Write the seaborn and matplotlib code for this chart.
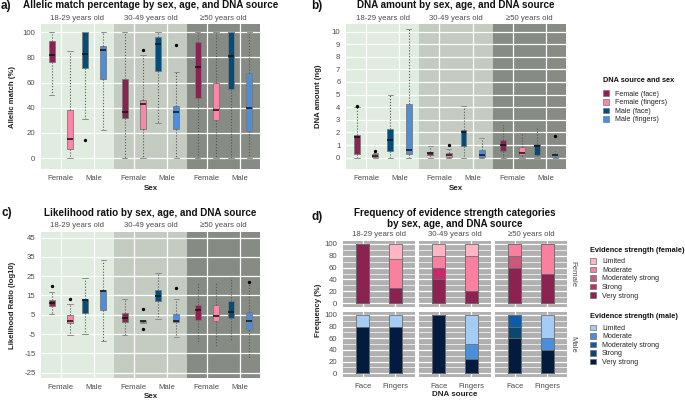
import numpy as np
import pandas as pd
import seaborn as sns
import matplotlib.pyplot as plt
from matplotlib.patches import Patch

# ---------------- data ----------------
ages = ['18-29 years old', '30-49 years old', '\u226550 years old']
sexes = ['Female', 'Male']
groups = ['Female (face)', 'Female (fingers)', 'Male (face)', 'Male (fingers)']
sources = ['Face', 'Fingers']

# box stats, 12 boxes each: age x (F face, F fingers, M face, M fingers)
allelic_low = [50, 0, 31, 22.5, 0, 0, 28, 0, 0, 0, 0, 0]
allelic_q1 = [76, 7, 72, 62.5, 32, 23.5, 69, 23.5, 48, 30, 55, 21.5]
allelic_med = [82, 15, 83, 86, 37, 43, 90.5, 37, 72.5, 38, 81, 39.5]
allelic_q3 = [93, 38, 100, 89.5, 63, 46.5, 96.5, 41, 92.5, 60, 100, 68]
allelic_high = [100, 85, 100, 100, 100, 82, 100, 68.5, 100, 100, 100, 100]
allelic_out = [[], [], [14], [], [], [86], [], [90], [], [], [], []]

dna_low = [0, 0, 0, 0, 0, 0, 0, 0, 0, 0, 0, 0]
dna_q1 = [0.27, 0.05, 0.53, 0.32, 0.18, 0.07, 0.9, 0.05, 0.55, 0.18, 0.2, 0.03]
dna_med = [1.65, 0.15, 1.41, 0.61, 0.33, 0.2, 2.0, 0.24, 1.0, 0.34, 0.9, 0.18]
dna_q3 = [1.78, 0.27, 2.29, 4.26, 0.48, 0.33, 2.19, 0.63, 1.4, 0.87, 1.1, 0.29]
dna_high = [4.0, 0.38, 4.95, 10.2, 0.93, 0.72, 4.06, 1.56, 2.66, 1.93, 2.45, 0.6]
dna_out = [[4.08], [0.52], [], [], [], [0.98], [], [], [], [], [], [1.74]]

lr_low = [5.3, -5.6, -5.1, -8.4, -5.3, 0.9, 2.9, -6.3, -8.9, -11.5, -8.9, -17.6]
lr_q1 = [9.6, 0.8, 5.7, 7.2, 1.4, 1.0, 11.9, 1.3, 2.5, 1.5, 3.4, -3.0]
lr_med = [11.2, 1.8, 12.8, 17.3, 3.2, 1.5, 14.5, 1.5, 7.7, 4.1, 6.2, 1.8]
lr_q3 = [12.6, 4.8, 13.0, 17.8, 5.9, 2.0, 17.6, 5.6, 10.2, 9.8, 12.1, 6.4]
lr_high = [16.6, 10.7, 24, 33.2, 13.1, 2.1, 26.5, 13.3, 21.8, 22.6, 24.5, 20.9]
lr_out = [[19.9], [13.3], [], [], [], [7.8, -2.3], [], [19], [], [], [], [22]]

# evidence strength shares (%), 6 bars: age x (Face, Fingers)
levels = ['Limited', 'Moderate', 'Moderately strong', 'Strong', 'Very strong']
female_very_strong = [100, 25, 40, 20, 60, 50]
female_strong = [0, 0, 20, 0, 0, 0]
female_mod_strong = [0, 0, 0, 0, 20, 0]
female_moderate = [0, 50, 20, 60, 20, 50]
female_limited = [0, 25, 20, 20, 0, 0]
male_very_strong = [80, 80, 100, 25, 60, 40]
male_strong = [0, 0, 0, 0, 20, 0]
male_mod_strong = [0, 0, 0, 0, 20, 0]
male_moderate = [0, 0, 0, 25, 0, 20]
male_limited = [20, 20, 0, 50, 0, 40]

group_colors = ['#8b2252', '#fa86aa', '#034d7a', '#4b8fdc']
female_colors = ['#ffb6c4', '#f9819f', '#c9587c', '#c8296a', '#8b2252']
male_colors = ['#a4cdf5', '#4a8fdb', '#0b5caa', '#0b4870', '#031b3f']
facet_bg = ['#e0ecdf', '#c4ccc2', '#868b84']

# ---------------- setup ----------------
sns.set_theme(style='white')
plt.rcParams['font.family'] = ['Liberation Sans', 'DejaVu Sans']
plt.rcParams['axes.unicode_minus'] = False

W, H = 685, 400
fig = plt.figure(figsize=(W / 100, H / 100), dpi=100)
TXT = '#4d4d4d'


def px_axes(x0, y0, x1, y1):
    return fig.add_axes([x0 / W, 1 - y1 / H, (x1 - x0) / W, (y1 - y0) / H])


def px_text(x, y, s, **kw):
    kw.setdefault('ha', 'center')
    kw.setdefault('va', 'center')
    fig.text(x / W, 1 - y / H, s, **kw)


def px_legend(cols, labels, title, x, y_title, y_first, edge):
    px_text(x, y_title, title, fontsize=5.3, fontweight='bold', color='#111111', ha='left')
    fig.legend([Patch(facecolor=c, edgecolor=edge, linewidth=0.5) for c in cols], labels,
               loc='upper left', bbox_to_anchor=(x / W, 1 - (y_first - 4.2) / H),
               frameon=False, fontsize=5.1, handlelength=0.8, handleheight=0.8,
               handletextpad=0.9, labelspacing=0.2, borderpad=0, borderaxespad=0)


def box_table(low, q1, med, q3, high, out):
    rows = []
    for i in range(12):
        rows.append({'age': ages[i // 4], 'group': groups[i % 4],
                     'whislo': low[i], 'q1': q1[i], 'med': med[i],
                     'q3': q3[i], 'whishi': high[i], 'fliers': out[i]})
    return pd.DataFrame(rows)


def box_panel(df, x0, y0, x1, y1, ylim, yticks, ylabel, title, tag, tag_x):
    fw = (x1 - x0) / 3
    offsets = [-0.275, 0.275, 0.725, 1.275]
    for i, age in enumerate(ages):
        ax = px_axes(x0 + i * fw, y0, x0 + (i + 1) * fw, y1)
        ax.set_facecolor(facet_bg[i])
        sub = df[df['age'] == age]
        stats = [dict(r) for _, r in sub[['whislo', 'q1', 'med', 'q3', 'whishi', 'fliers']].iterrows()]
        bp = ax.bxp(stats, positions=offsets, widths=0.18, patch_artist=True,
                    capwidths=0.16, manage_ticks=False,
                    boxprops=dict(edgecolor='#7a7a7a', linewidth=0.6),
                    whiskerprops=dict(color='#555555', linestyle=':', linewidth=0.8),
                    capprops=dict(color='#8c8c8c', linewidth=0.7),
                    medianprops=dict(color='#111111', linewidth=1.1),
                    flierprops=dict(marker='o', markersize=1.4, markerfacecolor='black',
                                    markeredgecolor='black'))
        for patch, c in zip(bp['boxes'], group_colors):
            patch.set_facecolor(c)
        ax.set_xlim(-0.6, 1.6)
        ax.set_ylim(*ylim)
        ax.set_xticks([0, 1])
        ax.set_xticklabels(sexes)
        ax.set_yticks(yticks)
        ax.set_axisbelow(True)
        ax.grid(True, color='white', linewidth=0.9)
        for s in ax.spines.values():
            s.set_visible(False)
        ax.tick_params(axis='both', labelsize=5.6, labelcolor=TXT, length=2,
                       width=0.5, color='#555555', pad=2)
        if i > 0:
            ax.tick_params(axis='y', left=False, labelleft=False)
        px_text(x0 + (i + 0.5) * fw, y0 - 6, age, fontsize=5.6, color=TXT)
    px_text((x0 + x1) / 2, y1 + 19, 'Sex', fontsize=5.8, fontweight='bold', color='#222222')
    px_text(x0 - 28, (y0 + y1) / 2, ylabel, fontsize=5.6, fontweight='bold',
            rotation=90, color='#222222')
    px_text((x0 + x1) / 2, y0 - 18.5, title, fontsize=7.1, fontweight='bold', color='#111111')
    px_text(tag_x, y0 - 18.5, tag, fontsize=8.5, fontweight='bold', color='#111111', ha='left')


allelic = box_table(allelic_low, allelic_q1, allelic_med, allelic_q3, allelic_high, allelic_out)
dna = box_table(dna_low, dna_q1, dna_med, dna_q3, dna_high, dna_out)
lr = box_table(lr_low, lr_q1, lr_med, lr_q3, lr_high, lr_out)

box_panel(allelic, 41, 24, 260, 169, (-8.7, 106.6), range(0, 101, 20),
          'Allelic match (%)', 'Allelic match percentage by sex, age, and DNA source', 'a)', 1)
box_panel(dna, 346, 24, 566, 169, (-0.9, 10.6), range(0, 11),
          'DNA amount (ng)', 'DNA amount by sex, age, and DNA source', 'b)', 311)
box_panel(lr, 41, 232, 260, 378, (-27.8, 47.9), range(-25, 46, 10),
          'Likelihood Ratio (log10)', 'Likelihood ratio by sex, age, and DNA source', 'c)', 1)

px_legend(group_colors, groups, 'DNA source and sex', 603, 80, 94.7, '#7a7a7a')

# ---------------- panel d ----------------
rows = []
for sex, parts in [('Female', [female_limited, female_moderate, female_mod_strong, female_strong, female_very_strong]),
                   ('Male', [male_limited, male_moderate, male_mod_strong, male_strong, male_very_strong])]:
    for j in range(6):
        for lvl, vals in zip(levels, parts):
            rows.append({'sex': sex, 'age': ages[j // 2], 'source': sources[j % 2],
                         'level': lvl, 'share': vals[j]})
evid = pd.DataFrame(rows)
evid['level'] = pd.Categorical(evid['level'], categories=levels[::-1], ordered=True)
evid = evid.sort_values(['sex', 'age', 'source', 'level'])
evid['cum'] = evid.groupby(['sex', 'age', 'source'], observed=True)['share'].cumsum()

dx = [(343, 415), (419, 491), (495, 567)]
dy = [(241, 307), (312, 377)]
for r, sex in enumerate(sexes):
    cols = female_colors if sex == 'Female' else male_colors
    for i, age in enumerate(ages):
        ax = px_axes(dx[i][0], dy[r][0], dx[i][1], dy[r][1])
        ax.set_facecolor('#b0b0b0')
        sub = evid[(evid['sex'] == sex) & (evid['age'] == age)]
        for lvl, c in zip(levels, cols):
            d = sub[sub['level'] == lvl]
            sns.barplot(data=d, x='source', y='cum', order=sources, color=c, saturation=1,
                        width=0.4, edgecolor='#6e6e6e', linewidth=0.6, errorbar=None, ax=ax)
        ax.set_xlim(-0.6, 1.6)
        ax.set_ylim(-6.5, 105)
        ax.set_xlabel('')
        ax.set_ylabel('')
        ax.set_yticks(range(0, 101, 20))
        ax.set_yticks(range(10, 100, 20), minor=True)
        ax.set_axisbelow(True)
        ax.grid(True, which='major', color='white', linewidth=0.9)
        ax.grid(True, which='minor', axis='y', color='white', linewidth=0.5)
        for s in ax.spines.values():
            s.set_visible(False)
        ax.tick_params(axis='both', labelsize=5.6, labelcolor=TXT, length=2,
                       width=0.5, color='#555555', pad=2)
        ax.tick_params(which='minor', left=False)
        if i > 0:
            ax.tick_params(axis='y', left=False, labelleft=False)
        if r == 0:
            ax.tick_params(axis='x', bottom=False, labelbottom=False)
            px_text((dx[i][0] + dx[i][1]) / 2, dy[0][0] - 6, age, fontsize=5.6, color=TXT)
    px_text(573, (dy[r][0] + dy[r][1]) / 2, sex, fontsize=5.6, color=TXT, rotation=270)

px_text(455, 213, 'Frequency of evidence strength categories', fontsize=7.1, fontweight='bold', color='#111111')
px_text(455, 224, 'by sex, age, and DNA source', fontsize=7.1, fontweight='bold', color='#111111')
px_text(311, 217, 'd)', fontsize=8.5, fontweight='bold', color='#111111', ha='left')
px_text(318, 310, 'Frequency (%)', fontsize=5.6, fontweight='bold', rotation=90, color='#222222')
px_text(455, 394, 'DNA source', fontsize=5.8, fontweight='bold', color='#222222')

px_legend(female_colors, levels, 'Evidence strength (female)', 590, 250, 262.3, '#6e6e6e')
px_legend(male_colors, levels, 'Evidence strength (male)', 590, 317, 328.7, '#6e6e6e')

fig.savefig('out.png', dpi=100, facecolor='white')
